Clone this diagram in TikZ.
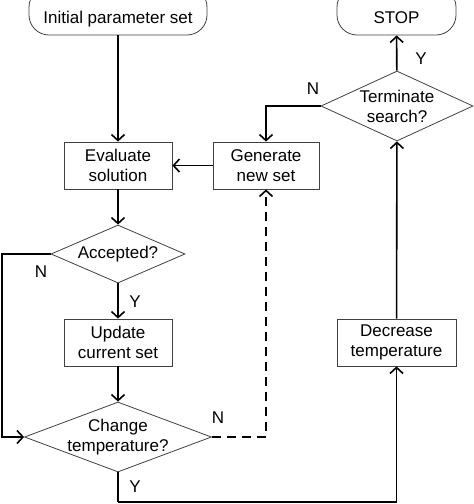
\documentclass[tikz,border=0pt]{standalone}
\usepackage{fontspec}
\setmainfont{Liberation Sans}
\usetikzlibrary{arrows.meta,shapes.geometric}

\tikzset{
  every node/.style={font=\fontsize{17}{20}\selectfont},
  terminal/.style={draw=black!75, line width=0.8pt, rectangle, rounded corners=20pt,
    minimum height=48pt, text height=29pt, text depth=4pt},
  process/.style={draw=black!75, line width=0.8pt, rectangle, minimum height=47pt,
    inner sep=0pt, align=center},
  decision/.style={draw=black!75, line width=0.8pt, diamond, inner sep=-60pt, align=center},
  lbl/.style={inner sep=0pt},
  flow/.style={line width=1.6pt, -{Straight Barb[length=6pt,width=13pt]}},
  link/.style={line width=1.6pt}
}

\begin{document}
\begin{tikzpicture}[x=1pt,y=-1pt]
    \useasboundingbox (0,0) rectangle (474,504);
    \node[terminal, minimum width=178pt] (start) at (118,11) {Initial parameter set};
    \node[terminal, minimum width=119pt] (stop)  at (396.5,11) {STOP};

    \node[process, minimum width=108pt] (eval) at (118,165.5) {Evaluate\\solution};
    \node[process, minimum width=106pt] (gen)  at (266,165.5) {Generate\\new set};
    \node[process, minimum width=108pt] (upd)  at (118,342.5) {Update\\current set};
    \node[process, minimum width=119pt] (dec)  at (396.5,342.5) {Decrease\\temperature};

    \node[decision, minimum width=152pt, minimum height=70pt] (term) at (397,106) {Terminate\\search?};
    \node[decision, minimum width=134pt, minimum height=58pt] (acc)  at (118,254) {Accepted?};
    \node[decision, minimum width=187pt, minimum height=70pt] (chg)  at (118,437) {Change\\temperature?};

    \coordinate (nleft) at (2,254);
    \coordinate (ybot) at (118,502);

    \draw[flow] (start) -- (eval);
    \draw[flow] (eval) -- (acc);
    \draw[flow] (acc) -- (upd);
    \draw[flow] (upd) -- (chg);
    \draw[flow] (acc.west) -- (nleft) |- (chg.west);
    \draw[flow, dashed, dash pattern=on 9pt off 6pt] (chg.east) -| (gen.south);
    \draw[link] (chg.south) -- (ybot);
    \draw[flow] (ybot) -| (dec.south);
    \draw[flow] (dec) -- (term);
    \draw[flow] (term) -- (stop);
    \draw[flow] (term.west) -| (gen.north);
    \draw[flow] (gen) -- (eval);

    \node[lbl] (yStop) at (421,59) {Y};
    \node[lbl] (nTerm) at (313,89) {N};
    \node[lbl] (nAcc)  at (41,272) {N};
    \node[lbl] (yAcc)  at (135,302) {Y};
    \node[lbl] (nChg)  at (218,418) {N};
    \node[lbl] (yChg)  at (135,487) {Y};
\end{tikzpicture}
\end{document}
